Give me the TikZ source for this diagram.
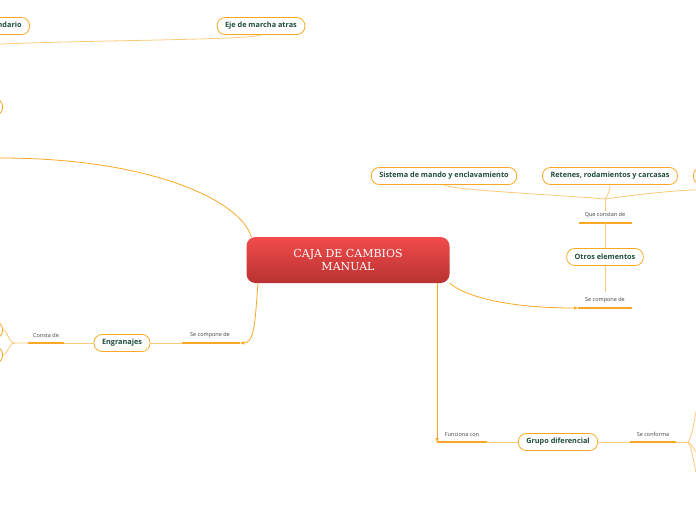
\documentclass[tikz,border=0pt]{standalone}
\usepackage{fontspec}
\setmainfont{Open Sans}
\newfontfamily\slab{DejaVu Serif}
\usetikzlibrary{arrows.meta}
\definecolor{org}{HTML}{F9A825}
\definecolor{lorg}{HTML}{FBC97A}
\definecolor{txt}{HTML}{1E4D3A}
\definecolor{redA}{HTML}{F24B4B}
\definecolor{redB}{HTML}{B83232}
\begin{document}
\begin{tikzpicture}[x=1pt,y=-1pt,
  topic/.style={draw=org,line width=0.8pt,fill=white,rounded corners=8pt,font=\bfseries\fontsize{7.3}{8}\selectfont,text=txt,inner xsep=8pt,minimum height=17pt},
  lab/.style={font=\fontsize{5.5}{6}\selectfont,text=black!75,anchor=south},
  uline/.style={draw=org,line width=1.4pt},
  conn/.style={draw=lorg,line width=0.8pt},
  arr/.style={draw=org,line width=0.8pt,-{Triangle[length=4pt,width=3pt]}}]
\useasboundingbox (0,0) rectangle (696,520);
\node[inner sep=0,minimum width=203pt,minimum height=46pt,rounded corners=9pt,top color=redA,bottom color=redB,draw=none,align=center,text=white,font=\slab\fontsize{11}{13}\selectfont] (c) at (348,260) {CAJA DE CAMBIOS\\MANUAL};
\node[topic,anchor=east] (es) at (30,26) {Eje secundario};
\node[topic] (ma) at (261,26) {Eje de marcha atras};
\node[topic,anchor=east] (ep) at (3,107) {Eje primario};
\node[topic] (sm) at (444,176) {Sistema de mando y enclavamiento};
\node[topic] (rr) at (610,176) {Retenes, rodamientos y carcasas};
\node[topic,anchor=west] (xx) at (693,176) {Otros};
\node[topic] (oe) at (605,257) {Otros elementos};
\node[topic] (en) at (122,343) {Engranajes};
\node[topic,anchor=east] (l1) at (3,330) {A};
\node[topic,anchor=east] (l2) at (3,355) {B};
\node[topic] (gd) at (558,442) {Grupo diferencial};
\draw[conn] (ma.south) .. controls (250,40) and (100,40) .. (0,44);
\coordinate (lc) at (0,158);
\draw[arr,-] (lc) .. controls (150,158) and (240,200) .. ([xshift=5pt]c.north west);
\coordinate (u1a) at (182,343); \coordinate (u1b) at (240,343);
\draw[uline] (u1a) -- (u1b);
\node[lab] at (210,341) {Se compone de};
\draw[arr] (258,283) .. controls (255,320) and (255,343) .. (u1b);
\draw[conn] (en.east) -- (u1a);
\coordinate (u2a) at (28,343); \coordinate (u2b) at (64,343);
\draw[uline] (u2a) -- (u2b);
\node[lab] at (46,341) {Consta de};
\draw[conn] (en.west) -- (u2b);
\draw[conn] (u2a) -- (15,343) .. controls (8,343) and (8,330) .. (l1.east);
\draw[conn] (15,343) .. controls (8,343) and (8,355) .. (l2.east);
\coordinate (u3a) at (578,308); \coordinate (u3b) at (632,308);
\draw[uline] (u3a) -- (u3b);
\node[lab] at (605,306) {Se compone de};
\draw[arr] (c.south east) .. controls (470,300) and (520,308) .. (u3a);
\draw[conn] (oe.south) -- (605,292);
\coordinate (u4a) at (579,223); \coordinate (u4b) at (632,223);
\draw[uline] (u4a) -- (u4b);
\node[lab] at (605,221) {Que constan de};
\draw[conn] (oe.north) -- (605,223);
\coordinate (br) at (605,199);
\draw[conn] (605,211) -- (br);
\draw[conn] (br) .. controls (560,195) and (450,190) .. (sm.south);
\draw[conn] (br) .. controls (610,192) and (610,188) .. (rr.south);
\draw[conn] (br) .. controls (640,194) and (680,190) .. (696,190);
\coordinate (u5a) at (437,442); \coordinate (u5b) at (487,442);
\draw[uline] (u5a) -- (u5b);
\node[lab] at (462,440) {Funciona con};
\draw[arr] (437,283) -- (u5a);
\draw[conn] (gd.west) -- (u5b);
\coordinate (u6a) at (630,442); \coordinate (u6b) at (676,442);
\draw[uline] (u6a) -- (u6b);
\node[lab] at (653,440) {Se conforma};
\draw[conn] (gd.east) -- (u6a);
\draw[conn] (u6b) -- (688,442);
\draw[conn] (688,442) .. controls (692,438) and (694,420) .. (696,412);
\draw[conn] (688,442) .. controls (692,444) and (694,450) .. (696,452);
\draw[conn] (688,442) .. controls (692,448) and (694,465) .. (696,472);
\end{tikzpicture}
\end{document}
